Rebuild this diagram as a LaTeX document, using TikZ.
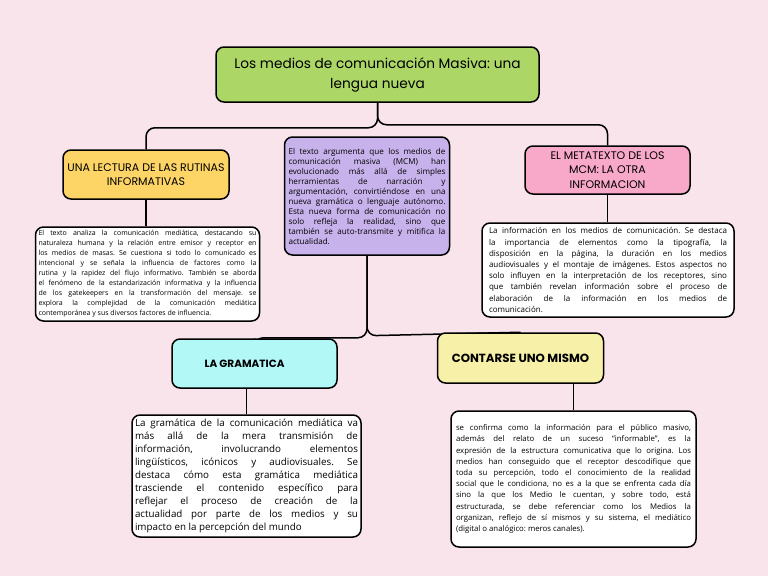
\documentclass[tikz,border=0pt]{standalone}
\usepackage{fontspec}
\setmainfont{Open Sans}
\newfontfamily\headfont{Poppins}
\frenchspacing
\usetikzlibrary{backgrounds}
\definecolor{bgpink}{RGB}{248,228,234}
\definecolor{rootgreen}{RGB}{172,214,102}
\definecolor{sunyellow}{RGB}{253,212,102}
\definecolor{lavender}{RGB}{200,178,235}
\definecolor{rosepink}{RGB}{248,168,200}
\definecolor{aqua}{RGB}{178,248,247}
\definecolor{paleyellow}{RGB}{247,240,168}

\begin{document}
\begin{tikzpicture}[x=1pt,y=-1pt,
  box/.style={draw,line width=1.5pt,rounded corners=8pt,inner sep=0pt,align=center},
  txtbox/.style={box,fill=white,align=justify,inner xsep=4pt},
  link/.style={line width=1.5pt,rounded corners=9pt}]
 \node[box,fill=rootgreen,minimum width=323pt,minimum height=55pt,
   font=\headfont\fontsize{13.7}{20}\selectfont] (root) at (377.5,74.5)
   {Los medios de comunicación Masiva: una\\lengua nueva};
 \node[box,fill=sunyellow,minimum width=166pt,minimum height=49pt,
   font=\headfont\fontsize{11}{14}\selectfont] (rutinas) at (146,174.5)
   {UNA LECTURA DE LAS RUTINAS\\INFORMATIVAS};
 \node[box,fill=rosepink,minimum width=165pt,minimum height=48pt,
   font=\headfont\fontsize{11}{14.5}\selectfont] (meta) at (607.5,170)
   {EL METATEXTO DE LOS\\MCM: LA OTRA\\INFORMACION};
 \node[txtbox,fill=lavender,text width=157pt,minimum height=118pt,
   font=\fontsize{8.1}{10}\selectfont] (central) at (367,196)
   {El texto argumenta que los medios de\linebreak
    comunicación masiva (MCM) han\linebreak
    evolucionado más allá de simples\linebreak
    herramientas de narración y\linebreak
    argumentación, convirtiéndose en una\linebreak
    nueva gramática o lenguaje autónomo.\linebreak
    Esta nueva forma de comunicación no\linebreak
    solo refleja la realidad, sino que\linebreak
    también se auto-transmite y mitifica la\linebreak
    actualidad.};
 \node[txtbox,text width=218pt,minimum height=94pt,inner xsep=3pt,
   font=\fontsize{7}{10}\selectfont] (lecturatxt) at (147.5,274)
   {El texto analiza la comunicación mediática, destacando su\linebreak
    naturaleza humana y la relación entre emisor y receptor en\linebreak
    los medios de masas. Se cuestiona si todo lo comunicado es\linebreak
    intencional y se señala la influencia de factores como la\linebreak
    rutina y la rapidez del flujo informativo. También se aborda\linebreak
    el fenómeno de la estandarización informativa y la influencia\linebreak
    de los gatekeepers en la transformación del mensaje. se\linebreak
    explora la complejidad de la comunicación mediática\linebreak
    contemporánea y sus diversos factores de influencia.};
 \node[txtbox,text width=238pt,minimum height=94pt,inner xsep=7pt,
   font=\fontsize{8}{11.2}\selectfont] (metatxt) at (608,270)
   {La información en los medios de comunicación. Se destaca\linebreak
    la importancia de elementos como la tipografía, la\linebreak
    disposición en la página, la duración en los medios\linebreak
    audiovisuales y el montaje de imágenes. Estos aspectos no\linebreak
    solo influyen en la interpretación de los receptores, sino\linebreak
    que también revelan información sobre el proceso de\linebreak
    elaboración de la información en los medios de\linebreak
    comunicación.};
 \node[box,fill=aqua,minimum width=165pt,minimum height=49pt,
   font=\headfont\bfseries\fontsize{10.5}{12}\selectfont] (gramatica) at (254.5,363.5)
   {LA GRAMATICA\hspace*{20pt}};
 \node[box,fill=paleyellow,minimum width=166pt,minimum height=50pt,
   font=\headfont\bfseries\fontsize{11.8}{13}\selectfont] (contarse) at (520.5,358)
   {CONTARSE UNO MISMO};
 \node[txtbox,text width=223pt,minimum height=122pt,inner xsep=3pt,
   font=\fontsize{9.8}{13}\selectfont] (gramtxt) at (246.5,476)
   {La gramática de la comunicación mediática va\linebreak
    más allá de la mera transmisión de\linebreak
    información, involucrando elementos\linebreak
    lingüísticos, icónicos y audiovisuales. Se\linebreak
    destaca cómo esta gramática mediática\linebreak
    trasciende el contenido específico para\linebreak
    reflejar el proceso de creación de la\linebreak
    actualidad por parte de los medios y su\linebreak
    impacto en la percepción del mundo};
 \node[txtbox,text width=235pt,minimum height=136pt,inner xsep=5pt,
   font=\fontsize{7.8}{11.2}\selectfont] (contxt) at (573.5,479)
   {se confirma como la información para el público masivo,\linebreak
    además del relato de un suceso “informable”, es la\linebreak
    expresión de la estructura comunicativa que lo origina. Los\linebreak
    medios han conseguido que el receptor descodifique que\linebreak
    toda su percepción, todo el conocimiento de la realidad\linebreak
    social que le condiciona, no es a la que se enfrenta cada día\linebreak
    sino la que los Medio le cuentan, y sobre todo, está\linebreak
    estructurada, se debe referenciar como los Medios la\linebreak
    organizan, reflejo de sí mismos y su sistema, el mediático\linebreak
    (digital o analógico: meros canales).};
 \begin{scope}[on background layer]
  \fill[bgpink] (0,0) rectangle (768,576);
  \draw[link] (root.south) -- ++(0,25) -| (rutinas.north);
  \draw[link] (root.south) -- ++(0,22) -| (meta.north);
  \draw[link] (rutinas.south) -- (rutinas.south |- lecturatxt.north);
  \draw[link] (meta.south) -- (meta.south |- metatxt.north);
  \draw[link] (central.south) -- ++(0,82) -| (gramatica.north);
  \draw[link] (central.south) -- ++(0,80) -- (contarse.north);
  \draw[link] (gramtxt.north) -- (gramtxt.north |- gramatica.south);
  \draw[link] (contxt.north) -- (contxt.north |- contarse.south);
 \end{scope}
\end{tikzpicture}
\end{document}
